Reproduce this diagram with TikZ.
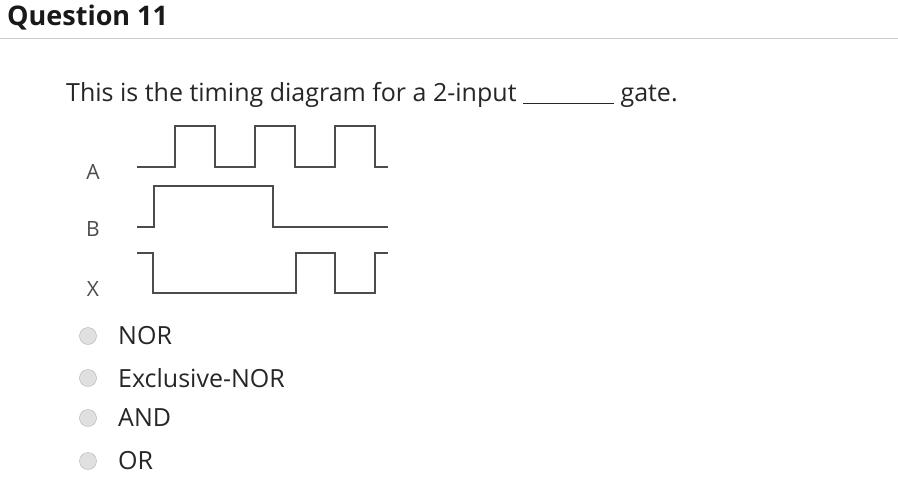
\documentclass[tikz,border=0pt]{standalone}
\usepackage{fontspec}
\setmainfont{Open Sans}
\begin{document}
\begin{tikzpicture}[x=1pt,y=-1pt,
 wave/.style={line width=2pt,color=black!70},
 lbl/.style={anchor=west,inner sep=0,text=black!75},
 radio/.style={circle,draw=black!30,fill=black!12,minimum size=17pt,inner sep=0}]
\useasboundingbox (0,0) rectangle (898,488);
\fill[white] (0,0) rectangle (898,488);
\node[lbl,font=\bfseries\fontsize{27}{30}\selectfont,text=black!90] (title) at (7,18) {Question 11};
\draw[black!20,line width=1pt] (0,38) -- (898,38);
\node[lbl,font=\fontsize{25}{28}\selectfont,text=black!85] (q) at (66,95) {This is the timing diagram for a 2-input \rule[-2pt]{91pt}{1pt} gate.};
\node[font=\fontsize{21}{24}\selectfont,text=black!70] (la) at (93,172) {A};
\node[font=\fontsize{21}{24}\selectfont,text=black!70] (lb) at (93,229) {B};
\node[font=\fontsize{21}{24}\selectfont,text=black!70] (lx) at (93,289) {X};
\draw[wave] (137,167) -- (175,167) -- (175,126) -- (215,126) -- (215,167) -- (255,167) -- (255,126) -- (295,126) -- (295,167) -- (335,167) -- (335,126) -- (375,126) -- (375,167) -- (388,167);
\draw[wave] (137,227) -- (154,227) -- (154,186) -- (273,186) -- (273,227) -- (388,227);
\draw[wave] (137,253) -- (153,253) -- (153,293) -- (296,293) -- (296,253) -- (335,253) -- (335,293) -- (375,293) -- (375,253) -- (388,253);
\foreach \y/\t/\n in {336/NOR/r1,378/Exclusive-NOR/r2,418/AND/r3,461/OR/r4}{
 \node[radio] (\n) at (88,\y) {};
 \node[lbl,font=\fontsize{25}{28}\selectfont,text=black!85] (t\n) at (118,\y) {\t};
}
\end{tikzpicture}
\end{document}
